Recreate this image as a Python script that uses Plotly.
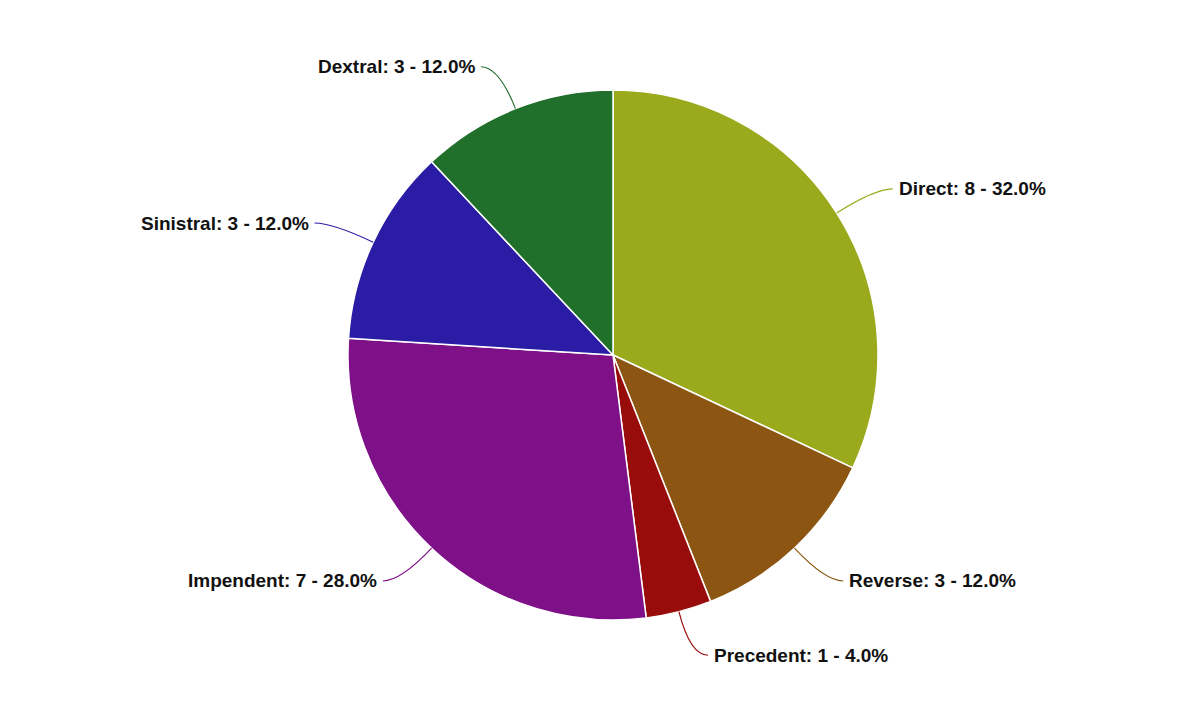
import math
import plotly.graph_objects as go

labels = ["Direct", "Reverse", "Precedent", "Impendent", "Sinistral", "Dextral"]
values = [8, 3, 1, 7, 3, 3]
colors = ["#9aaa1c", "#8c5612", "#980c0c", "#7e1088", "#2a1ca4", "#20702c"]

W, H = 1200, 709
CX, CY, R = 605, 347, 265  # pie centre / radius in pixels

total = sum(values)
text = [f"{l}: {v} - {v / total * 100:.1f}%" for l, v in zip(labels, values)]

fig = go.Figure(
    go.Pie(
        labels=labels,
        values=values,
        text=text,
        textinfo="none",
        sort=False,
        direction="clockwise",
        rotation=0,
        marker=dict(colors=colors, line=dict(color="white", width=1.5)),
        hovertemplate="%{text}<extra></extra>",
        automargin=False,
        domain=dict(x=[(CX - R) / W, (CX + R) / W], y=[1 - (CY + R) / H, 1 - (CY - R) / H]),
        showlegend=False,
    )
)


def px(x, y):
    return x / W, 1 - y / H


# outside labels with connector lines, positioned from slice mid-angles
cum = 0
for lab, v, col in zip(text, values, colors):
    mid = (cum + v / 2) / total * 2 * math.pi
    cum += v
    s, c = math.sin(mid), math.cos(mid)
    side = 1 if s >= 0 else -1
    x0, y0 = CX + R * s, CY - R * c
    x1, y1 = CX + (R + 45) * s, CY - (R + 45) * c
    x2 = x1 + side * 18
    p0, p1, p2 = px(x0, y0), px(x1, y1), px(x2, y1)
    fig.add_shape(
        type="path",
        xref="paper", yref="paper",
        path=f"M {p0[0]},{p0[1]} Q {p1[0]},{p1[1]} {p2[0]},{p2[1]}",
        line=dict(color=col, width=1.2),
    )
    fig.add_annotation(
        x=px(x2 + side * 4, y1)[0], y=p2[1],
        xref="paper", yref="paper",
        text=f"<b>{lab}</b>",
        showarrow=False,
        xanchor="left" if side > 0 else "right",
        yanchor="middle",
        font=dict(family="Liberation Sans", size=19, color="#111111"),
    )

fig.update_layout(
    width=W,
    height=H,
    margin=dict(l=0, r=0, t=0, b=0),
    paper_bgcolor="white",
)

fig.write_html("out.html")
